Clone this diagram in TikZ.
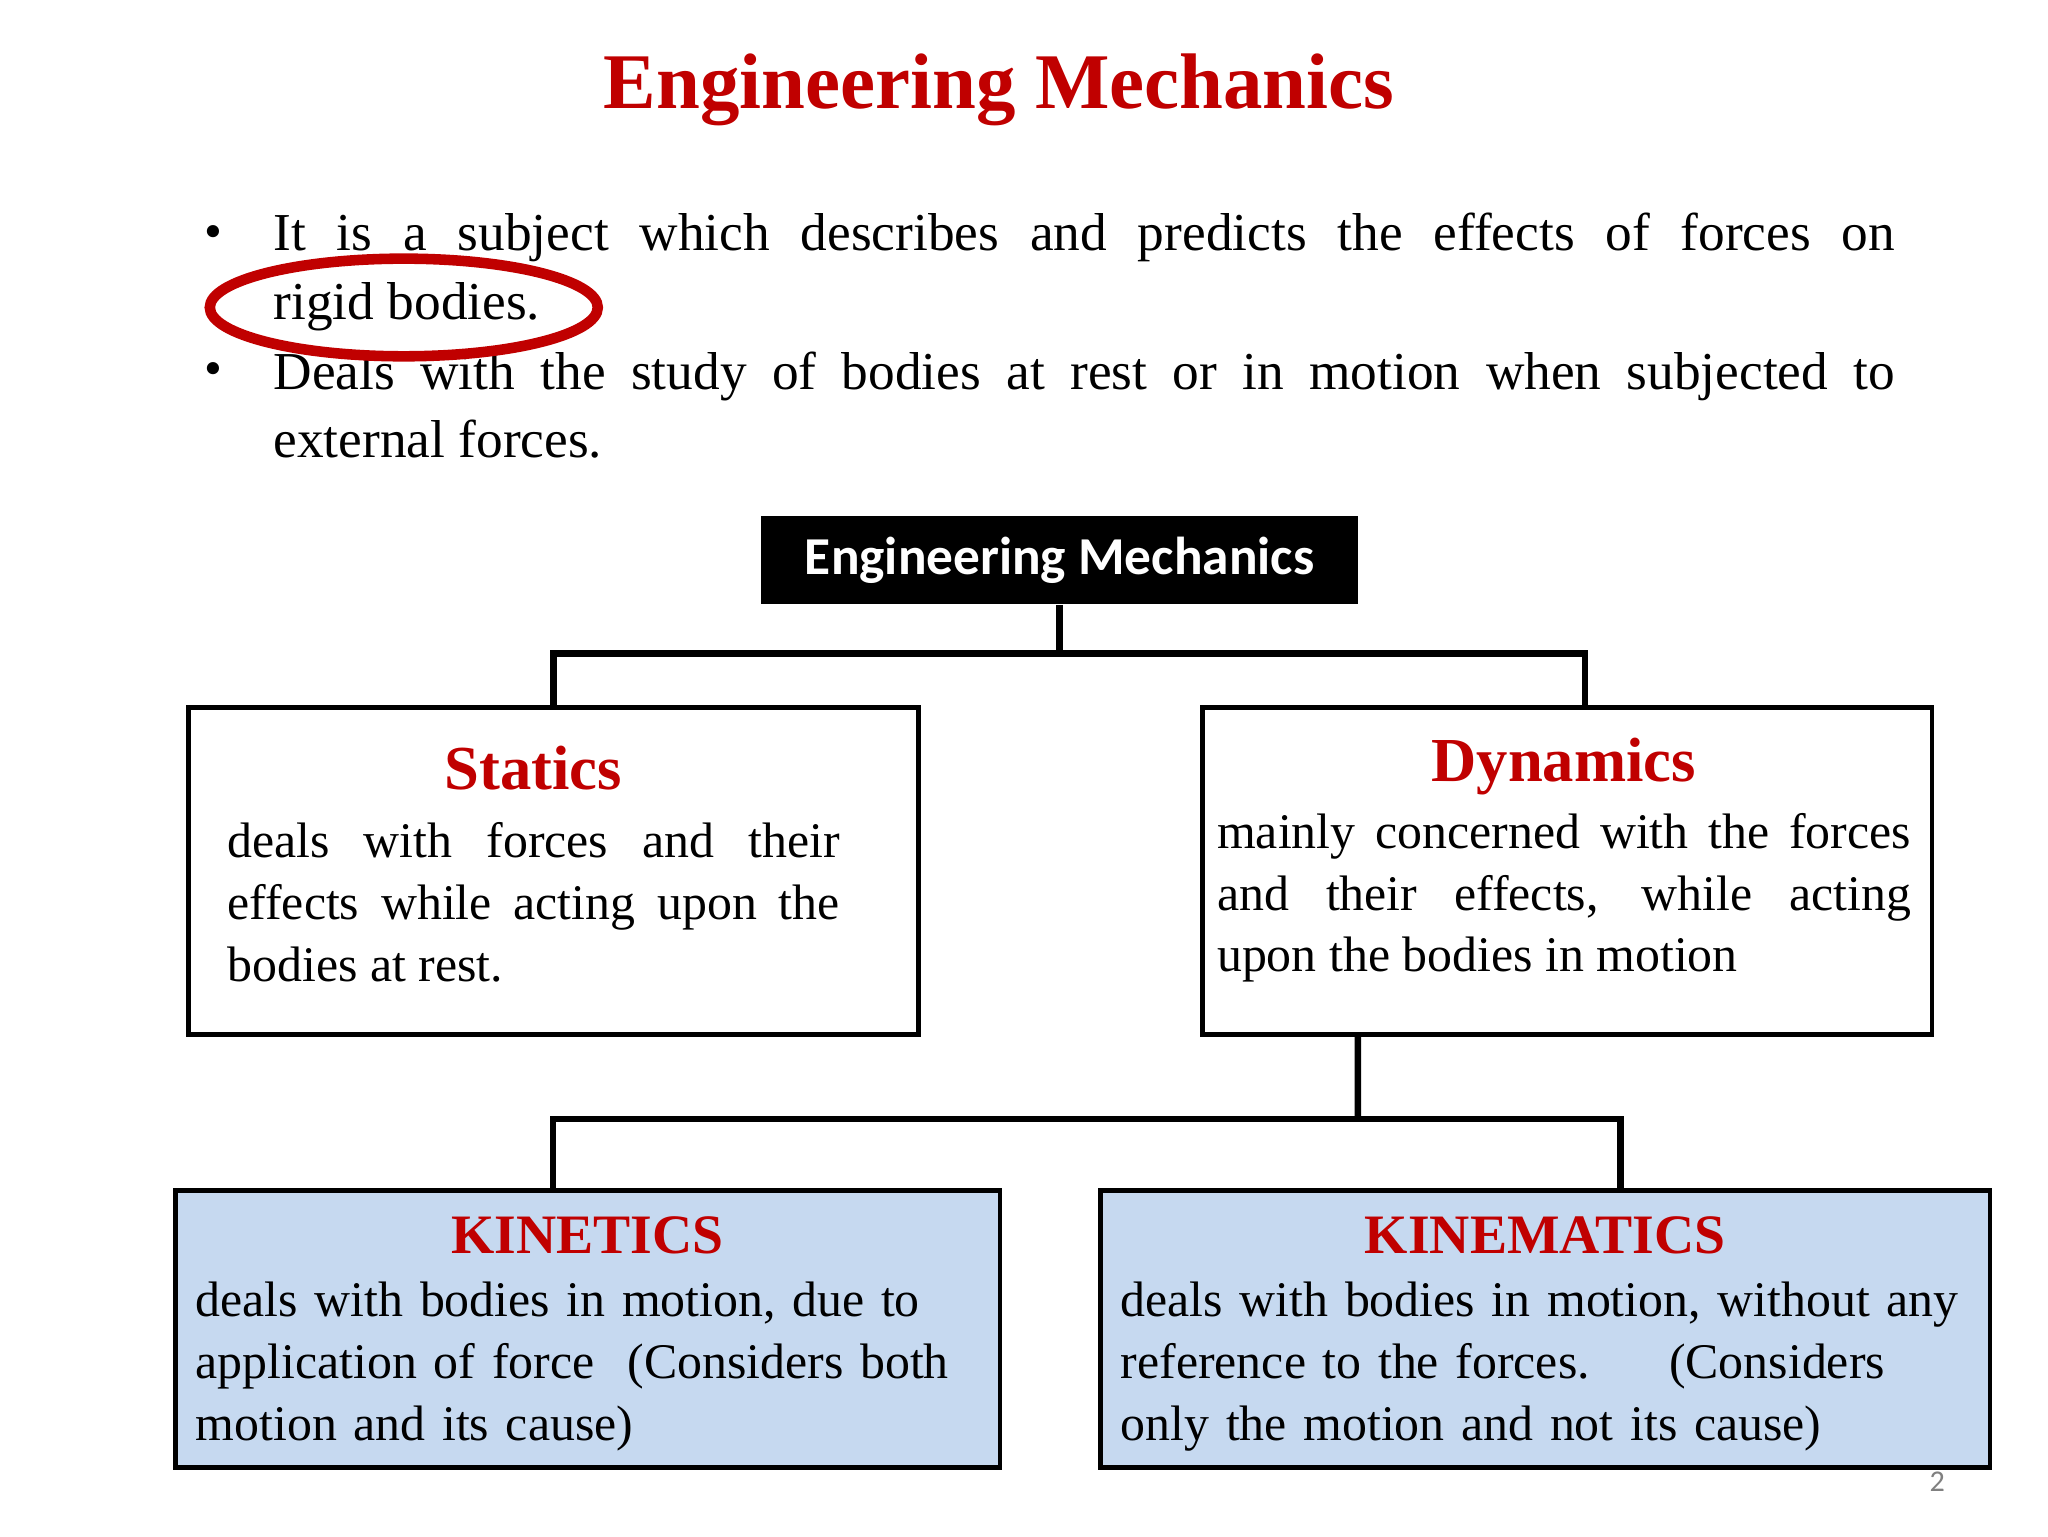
\documentclass[tikz,border=0pt]{standalone}
\usepackage{fontspec}
\setmainfont{Liberation Serif}
\newfontfamily\calib{Carlito}
\definecolor{tred}{RGB}{192,0,0}
\definecolor{lblue}{RGB}{198,217,240}
\tikzset{
  box/.style={draw=black,line width=0.07cm,inner sep=0pt},
  conn/.style={line width=0.1cm},
  ttl/.style={text=tred,font=\fontsize{27}{30}\selectfont\bfseries},
  body/.style={font=\fontsize{21.5}{26.6}\selectfont,anchor=base west,inner sep=0pt},
}
\begin{document}
\begin{tikzpicture}[x=0.02cm,y=-0.02cm]
\useasboundingbox (0,0) rectangle (1552,1164);
\node[text=tred,font=\fontsize{34}{40}\selectfont\bfseries,anchor=base] (title) at (757,82) {Engineering Mechanics};
\node[font=\fontsize{22}{29.5}\selectfont,anchor=base] (b1) at (162,188) {•};
\node[font=\fontsize{22}{29.5}\selectfont,anchor=base] (b2) at (162,292) {•};
\node[font=\fontsize{23}{29.5}\selectfont,anchor=base west,inner sep=0pt,text width=24.58cm,align=justify] (t1) at (207,190) {It is a subject which describes and predicts the effects of forces on\linebreak rigid bodies.};
\node[font=\fontsize{23}{29.5}\selectfont,anchor=base west,inner sep=0pt,text width=24.58cm,align=justify] (t2) at (207,295) {Deals with the study of bodies at rest or in motion when subjected to\linebreak external forces.};
\draw[tred,line width=0.16cm] (306,233) ellipse[x radius=147,y radius=37];
\node[fill=black,minimum width=9.04cm,minimum height=1.34cm,text=white,font=\calib\fontsize{23}{26}\selectfont\bfseries] (em) at (803,424.5) {Engineering Mechanics};
\node[box,minimum width=11.06cm,minimum height=4.96cm] (st) at (419.5,660) {};
\node[box,minimum width=11.06cm,minimum height=4.96cm] (dy) at (1187.5,660) {};
\node[box,fill=lblue,minimum width=12.5cm,minimum height=4.2cm] (ki) at (445.5,1007) {};
\node[box,fill=lblue,minimum width=13.48cm,minimum height=4.2cm] (km) at (1171,1007) {};
\node[ttl,anchor=base] (stt) at (404,598) {Statics};
\node[body,text width=9.28cm,align=justify] (stb) at (172,650) {deals with forces and their\linebreak effects while acting upon the\linebreak bodies at rest.};
\node[ttl,anchor=base] (dyt) at (1185,592) {Dynamics};
\node[body,text width=10.52cm,align=justify] (dyb) at (922,643) {mainly concerned with the forces\linebreak and their effects, while acting\linebreak upon the bodies in motion};
\node[ttl,anchor=base,font=\fontsize{24}{28}\selectfont\bfseries] (kit) at (445,950) {KINETICS};
\node[body,text width=11.9cm,align=left] (kib) at (148,998) {deals with bodies in motion, due to\\application of force\ \ (Considers both\\motion and its cause)};
\node[ttl,anchor=base,font=\fontsize{24}{28}\selectfont\bfseries] (kmt) at (1171,950) {KINEMATICS};
\node[body,text width=13cm,align=left] (kmb) at (849,998) {deals with bodies in motion, without any\\reference to the forces.\hspace{1.2cm}(Considers\\only the motion and not its cause)};
\node[text=gray,font=\calib\fontsize{13}{15}\selectfont] (pg) at (1468,1123) {2};
\coordinate (j1) at (803,495);
\coordinate (j2) at (1029,848);
\draw[conn] (em.south) -- (j1);
\draw[conn] (j1) -| (st.north);
\draw[conn] (j1) -| ([xshift=0.27cm]dy.north);
\draw[conn] ([xshift=-3.17cm]dy.south) -- (j2);
\draw[conn] (j2) -| ([xshift=-0.53cm]ki.north);
\draw[conn] (j2) -| ([xshift=1.14cm]km.north);
\end{tikzpicture}
\end{document}
